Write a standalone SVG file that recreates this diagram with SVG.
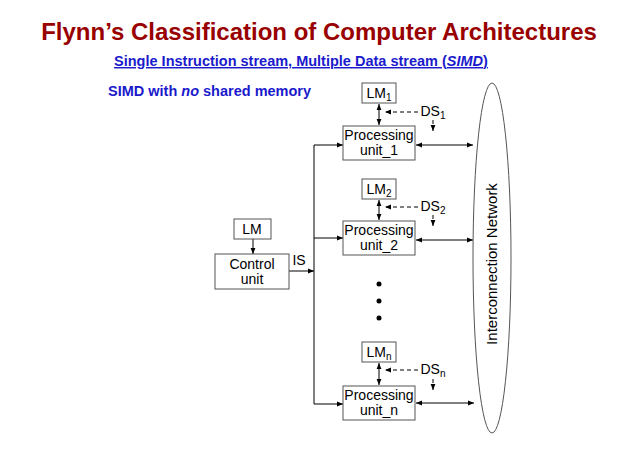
<svg xmlns="http://www.w3.org/2000/svg" width="638" height="451" viewBox="0 0 638 451">
<defs>
<marker id="a" viewBox="0 0 10 10" refX="10" refY="5" markerWidth="6" markerHeight="6" orient="auto-start-reverse"><path d="M0,1 L10,5 L0,9 z" fill="#000"/></marker>
<style>
.b{fill:#fff;stroke:#555;stroke-width:1}
.t{font-family:"Liberation Sans",Arial,sans-serif;font-size:14px;fill:#000;text-anchor:middle}
.l{stroke:#000;stroke-width:1;fill:none}
.d{stroke:#000;stroke-width:1;fill:none;stroke-dasharray:4,3}
</style>
</defs>
<rect width="638" height="451" fill="#fff"/>
<text x="319" y="40" font-family="Liberation Sans,Arial,sans-serif" font-size="24" font-weight="bold" fill="#990000" text-anchor="middle">Flynn’s Classification of Computer Architectures</text>
<text x="301" y="66" font-family="Liberation Sans,Arial,sans-serif" font-size="14.5" font-weight="bold" fill="#1a1acc" text-anchor="middle" text-decoration="underline">Single Instruction stream, Multiple Data stream (<tspan font-style="italic">SIMD</tspan>)</text>
<text x="108" y="96" font-family="Liberation Sans,Arial,sans-serif" font-size="14.5" font-weight="bold" fill="#1a1acc">SIMD with <tspan font-style="italic">no</tspan> shared memory</text>
<g id="connectors">
<path class="l" d="M289,271 H314" marker-end="url(#a)"/>
<path class="l" d="M314,145 V404"/>
<path class="l" d="M314,145 H343" marker-end="url(#a)"/>
<path class="l" d="M314,238 H343" marker-end="url(#a)"/>
<path class="l" d="M314,404 H343" marker-end="url(#a)"/>
<path class="l" d="M253,239 V254" marker-end="url(#a)"/>
<path class="l" d="M379,104 V125" marker-start="url(#a)" marker-end="url(#a)"/>
<path class="l" d="M379,200 V220" marker-start="url(#a)" marker-end="url(#a)"/>
<path class="l" d="M379,363 V385" marker-start="url(#a)" marker-end="url(#a)"/>
<path class="d" d="M418,112 H385" marker-end="url(#a)"/>
<path class="d" d="M418,207 H385" marker-end="url(#a)"/>
<path class="d" d="M418,370 H385" marker-end="url(#a)"/>
<path class="d" d="M433,120 V131" marker-end="url(#a)"/>
<path class="d" d="M433,215 V226" marker-end="url(#a)"/>
<path class="d" d="M433,379 V390" marker-end="url(#a)"/>
<path class="l" d="M416,145 H473" marker-start="url(#a)" marker-end="url(#a)"/>
<path class="l" d="M416,240 H473" marker-start="url(#a)" marker-end="url(#a)"/>
<path class="l" d="M416,403 H474" marker-start="url(#a)" marker-end="url(#a)"/>
</g>
<g id="lm1"><rect class="b" x="362" y="83" width="34" height="20"/><text class="t" x="379" y="98">LM<tspan font-size="10" dy="3">1</tspan></text></g>
<g id="ds1"><text class="t" x="433" y="116">DS<tspan font-size="10" dy="3">1</tspan></text></g>
<g id="pu1"><rect class="b" x="343" y="126" width="72" height="34"/><text class="t" x="379" y="140">Processing</text><text class="t" x="379" y="155">unit_1</text></g>
<g id="lm2"><rect class="b" x="362" y="179" width="34" height="20"/><text class="t" x="379" y="194">LM<tspan font-size="10" dy="3">2</tspan></text></g>
<g id="ds2"><text class="t" x="433" y="211">DS<tspan font-size="10" dy="3">2</tspan></text></g>
<g id="pu2"><rect class="b" x="343" y="221" width="72" height="34"/><text class="t" x="379" y="235">Processing</text><text class="t" x="379" y="250">unit_2</text></g>
<g id="lmn"><rect class="b" x="362" y="342" width="34" height="20"/><text class="t" x="379" y="357">LM<tspan font-size="10" dy="3">n</tspan></text></g>
<g id="dsn"><text class="t" x="433" y="374">DS<tspan font-size="10" dy="3">n</tspan></text></g>
<g id="pun"><rect class="b" x="343" y="386" width="72" height="34"/><text class="t" x="379" y="400">Processing</text><text class="t" x="379" y="415">unit_n</text></g>
<g id="lm"><rect class="b" x="234" y="219" width="37" height="20"/><text class="t" x="252" y="234">LM</text></g>
<g id="cu"><rect class="b" x="215" y="254" width="74" height="35"/><text class="t" x="252" y="269">Control</text><text class="t" x="252" y="284">unit</text></g>
<g id="is"><text class="t" x="299" y="265">IS</text></g>
<g id="dots"><circle cx="379" cy="284" r="2.5"/><circle cx="379" cy="301" r="2.5"/><circle cx="379" cy="318" r="2.5"/></g>
<g id="net"><ellipse cx="492" cy="258" rx="19" ry="175" fill="none" stroke="#555"/><text class="t" style="font-size:15px" transform="translate(497,264) rotate(-90)">Interconnection Network</text></g>
</svg>
